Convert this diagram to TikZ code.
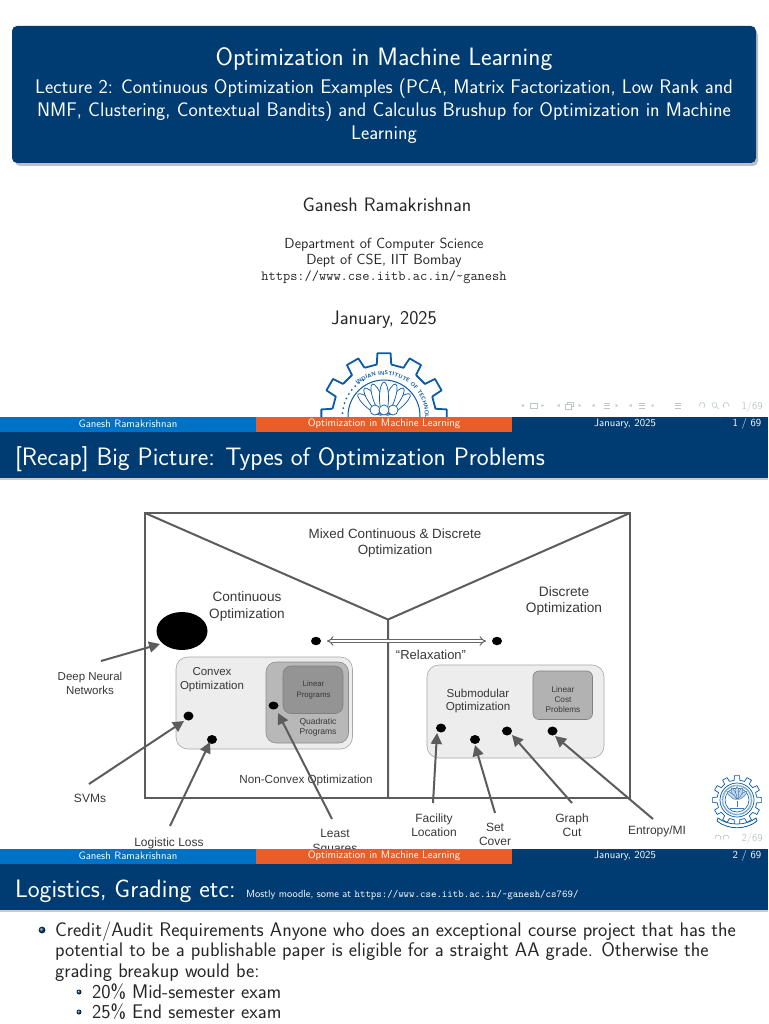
\documentclass[tikz,border=0pt]{standalone}
\usepackage{fontspec}
\newfontfamily\diafont{Liberation Sans}
\usetikzlibrary{arrows.meta,decorations.text,shadings,shapes.geometric}
\definecolor{navy}{RGB}{0,60,113}
\definecolor{midblue}{RGB}{0,114,198}
\definecolor{orng}{RGB}{232,94,42}
\definecolor{logoblue}{RGB}{10,90,165}
\definecolor{lgray}{gray}{0.36}
\definecolor{navgray}{RGB}{190,196,205}
\newcommand\pxfont[1]{\fontsize{#1}{#1}\selectfont}
\tikzset{
  x=1pt,y=-1pt,
  every node/.style={inner sep=0pt,outer sep=0pt,font=\sffamily},
  band/.style={fill=#1,draw=none},
  foot/.style={text=white,font=\sffamily\pxfont{10.7}},
  ttl/.style={text=white,anchor=base west,font=\sffamily\pxfont{25.2}},
  sub/.style={text=white,font=\sffamily\pxfont{19.7}},
  body/.style={text=black!85,anchor=base west,font=\sffamily\pxfont{19.7}},
  dia/.style={text=black!78,align=center,font=\diafont\pxfont{#1}},
  dia/.default=12.5,
  dot/.style={fill=black,ellipse},
  frameline/.style={draw=lgray,line width=2pt},
  arr/.style={draw=lgray,line width=2pt,-{Triangle[length=11pt,width=11pt]}},
  gearlw/.initial=1.8pt,
  gearpic/.pic={
    \begin{scope}[y=1pt]
      \foreach \a in {0,30,...,330}{
        \draw[logoblue,line width=\pgfkeysvalueof{/tikz/gearlw},line join=round]
          (\a-8:52)--(\a-6:63)--(\a+6:63)--(\a+8:52)--(\a+22:52);
      }
      \draw[logoblue,line width=1pt] (0,0) circle[radius=36];
      \foreach \a in {40,140,55,125,70,110,90}{
        \draw[logoblue,fill=white,line width=.7pt,rotate=\a] (18,0) ellipse[x radius=16,y radius=4.5];
      }
      \foreach \a in {-1,1,0}{
        \draw[logoblue,fill=white,line width=.7pt] (\a*9,6) circle[radius=5];
      }
    \end{scope}
  },
}
\newcommand\navbar[1]{%
  \begin{scope}[navgray,line width=.6pt,shift={(0,#1)}]
    \foreach \x in {522,558,593,630}{\fill (\x+1.5,-1.5)--(\x+1.5,1.5)--(\x-1,0)--cycle;}
    \foreach \x in {543,580,617,653}{\fill (\x-1.5,-1.5)--(\x-1.5,1.5)--(\x+1,0)--cycle;}
    \draw (530,-2.5) rectangle (537,2.5);
    \draw (565,-1) rectangle (571,3.5); \draw (567,-1)--(567,-3)--(573,-3)--(573,1)--(571,1);
    \foreach \x in {607,642,678}{\draw (\x-3,-2.5)--(\x+3,-2.5) (\x-3,0)--(\x+3,0) (\x-3,2.5)--(\x+3,2.5);}
    \draw[shift={(702,0)},y=1pt] (200:3) arc[start angle=200,end angle=-50,radius=3];
    \draw (714.5,-.5) circle[radius=2.4] (716.5,1.5)--(719,3.5);
    \draw[shift={(726,0)},y=1pt] (-20:3) arc[start angle=-20,end angle=230,radius=3];
  \end{scope}}
\begin{document}
\begin{tikzpicture}
\useasboundingbox (0,0) rectangle (768,1024);
\fill[white] (0,0) rectangle (768,1024);

% ---------- title slide
\fill[black!25,rounded corners=5pt] (15,30) rectangle (758,166);
\fill[navy,rounded corners=5pt] (12,26) rectangle (756,163);
\node[text=white,font=\sffamily\pxfont{25.2}] (mtitle) at (384,59) {Optimization in Machine Learning};
\node[sub] (st1) at (384,89) {Lecture 2: Continuous Optimization Examples (PCA, Matrix Factorization, Low Rank and};
\node[sub] (st2) at (384,112) {NMF, Clustering, Contextual Bandits) and Calculus Brushup for Optimization in Machine};
\node[sub] (st3) at (384,135) {Learning};
\node[text=black!85,font=\sffamily\pxfont{19.5}] (author) at (387,205) {Ganesh Ramakrishnan};
\node[text=black!85,font=\sffamily\pxfont{14.6}] (dep1) at (384,245) {Department of Computer Science};
\node[text=black!85,font=\sffamily\pxfont{14.6}] (dep2) at (384,261) {Dept of CSE, IIT Bombay};
\node[text=black!85,font=\ttfamily\pxfont{14}] (url1) at (384,277) {https://www.cse.iitb.ac.in/\textasciitilde ganesh};
\node[text=black!85,font=\sffamily\pxfont{19.5}] (date1) at (384,320) {January, 2025};

% big logo
\begin{scope}
  \clip (300,340) rectangle (470,417);
  \pic at (384,416) {gearpic};
  \begin{scope}[shift={(384,416)},y=1pt]
    \path[decorate,decoration={text along path,text align=center,
      text color=logoblue,text={|\sffamily\bfseries\pxfont{5.6}|INDIAN INSTITUTE OF TECHNOLOGY}}]
      (115:41) arc[start angle=115,end angle=-5,radius=41];
    \foreach \a in {120,127,...,176}{\fill[logoblue] (\a:41.5) circle[radius=1];}
  \end{scope}
\end{scope}
\navbar{405.5}
\node[text=navgray,font=\sffamily\pxfont{10.5}] (pg1) at (752,407) {1/69};

% footer 1
\path[band=midblue] (0,417) rectangle (256,432);
\path[band=orng] (256,417) rectangle (512,432);
\path[band=navy] (512,417) rectangle (768,432);
\node[foot] (f1a) at (128,424) {Ganesh Ramakrishnan};
\node[foot] (f1b) at (384,424) {Optimization in Machine Learning};
\node[foot] (f1c) at (625,424) {January, 2025};
\node[foot] (f1d) at (747,424) {1 / 69};

% ---------- slide 2
\path[band=navy] (0,432) rectangle (768,478);
\fill[black!20] (0,478) rectangle (768,479.5);
\node[ttl] (t2) at (15,465) {[Recap] Big Picture: Types of Optimization Problems};

% diagram
\coordinate (tl) at (145,513);
\coordinate (tr) at (630,513);
\coordinate (br) at (630,798);
\coordinate (bl) at (145,798);
\coordinate (apex) at (388,619.5);
\coordinate (vb) at (388,798);
\draw[frameline] (tl)--(tr)--(br)--(bl)--cycle;
\draw[frameline] (tl)--(apex)--(tr) (apex)--(vb);

\node[dot,minimum width=51pt,minimum height=38pt] (dnn) at (182,631) {};
\node[dot,minimum width=10pt,minimum height=8.5pt] (d1) at (316,641) {};
\node[dot,minimum width=10pt,minimum height=8.5pt] (d2) at (497,641) {};
\path (d1.east)++(6,0) coordinate (ra) (d2.west)++(-6,0) coordinate (rb);
\draw[black!60,line width=1pt,double=white,double distance=2.2pt,{Implies}-{Implies}] (ra)--(rb);

\filldraw[fill=black!7,draw=black!35,line width=.6pt,rounded corners=12pt] (176,657) rectangle (352.5,749);
\filldraw[fill=black!28,draw=black!45,line width=.6pt,rounded corners=10pt] (266,662) rectangle (348.5,743);
\filldraw[fill=black!42,draw=black!50,line width=.6pt,rounded corners=8pt] (283,666) rectangle (343,713.5);
\filldraw[fill=black!7,draw=black!35,line width=.6pt,rounded corners=12pt] (427,665) rectangle (604,758);
\filldraw[fill=black!30,draw=black!50,line width=.6pt,rounded corners=6pt] (533,671) rectangle (592.5,719.5);

\node[dia=13.4] (mix) at (395,543) {Mixed Continuous \& Discrete\\[3pt]Optimization};
\node[dia=13.6] (cont) at (247,606.5) {Continuous\\[3pt]Optimization};
\node[dia=13.7] (disc) at (564,601) {Discrete\\[3pt]Optimization};
\node[dia=13] (rel) at (431,655) {“Relaxation”};
\node[dia=11.5] (conv) at (212,679.5) {Convex\\[2pt]Optimization};
\node[dia=7.8] (lp) at (313.5,690) {Linear\\[2.5pt]Programs};
\node[dia=8.5] (qp) at (318,727) {Quadratic\\[1.5pt]Programs};
\node[dia=11.6] (sub) at (478,701) {Submodular\\[2pt]Optimization};
\node[dia=8.2] (lc) at (563,699.5) {Linear\\[1.6pt]Cost\\[1.6pt]Problems};
\node[dia=11.7] (nc) at (306,780) {Non-Convex Optimization};
\node[dia=11.5] (dn) at (90,683) {Deep Neural\\[2.5pt]Networks};
\node[dia=12] (svm) at (90,798) {SVMs};
\node[dia=12] (ll) at (169,843.5) {Logistic Loss};
\node[dia=12] (ls) at (335,842.5) {Least\\[3pt]Squares};
\node[dia=12] (fl) at (434,825) {Facility\\[2pt]Location};
\node[dia=12] (sc) at (495,834) {Set\\[2pt]Cover};
\node[dia=12] (gc) at (572,825) {Graph\\[2pt]Cut};
\node[dia=12] (em) at (657,831) {Entropy/MI};

\node[dot,minimum width=10pt,minimum height=9pt] (sv) at (188.5,716) {};
\node[dot,minimum width=10pt,minimum height=9pt] (lo) at (212,739.5) {};
\node[dot,minimum width=10pt,minimum height=8pt] (lq) at (273.5,705.5) {};
\node[dot,minimum width=10pt,minimum height=9pt] (fa) at (441,728) {};
\node[dot,minimum width=10pt,minimum height=9pt] (se) at (475,739.5) {};
\node[dot,minimum width=10pt,minimum height=9pt] (gr) at (507,731) {};
\node[dot,minimum width=10pt,minimum height=9pt] (en) at (552.5,731) {};

\coordinate (a1) at (101,661); \coordinate (b1) at (160,644);
\coordinate (a2) at (89,784);  \coordinate (b2) at (184,721);
\coordinate (a3) at (170,826); \coordinate (b3) at (210,742);
\coordinate (a4) at (332,819); \coordinate (b4) at (278,713);
\coordinate (a5) at (433,803); \coordinate (b5) at (437,733);
\coordinate (a6) at (495,813); \coordinate (b6) at (475,745);
\coordinate (a7) at (572,803); \coordinate (b7) at (512,735);
\coordinate (a8) at (653,819); \coordinate (b8) at (555,736);
\foreach \i in {1,...,8}{\draw[arr] (a\i)--(b\i);}

% small logo
\foreach \a in {0,30,...,330}{
  \draw[logoblue,line width=.7pt,shift={(737,800)},y=1pt]
    (\a-8:20)--(\a-6:24.5)--(\a+6:24.5)--(\a+8:20)--(\a+22:20);
}
\draw[logoblue,line width=.7pt] (737,800) circle[radius=17];
\draw[logoblue!60,line width=1.6pt,dash pattern=on .7pt off .5pt] (737,800) circle[radius=14.5];
\draw[logoblue,line width=.6pt] (737,800) circle[radius=12];
\foreach \a in {-50,-25,0,25,50}{
  \draw[logoblue,fill=logoblue!25,line width=.3pt,shift={(737,800)},rotate=\a] (0,-7) ellipse[x radius=1.7,y radius=6];
}
\draw[logoblue!80,line width=1pt] (737,801)--(737,807) (730,808)--(744,808);
\filldraw[fill=white,draw=logoblue,line width=.8pt] (718,818) .. controls (728,826) and (746,826) .. (756,818) -- (757,821) .. controls (746,830) and (728,830) .. (717,821) -- cycle;
\begin{scope}[navgray,line width=.6pt,shift={(0,838)}]
  \draw[shift={(718,0)},y=1pt] (200:3) arc[start angle=200,end angle=-50,radius=3];
  \draw[shift={(726,0)},y=1pt] (-20:3) arc[start angle=-20,end angle=230,radius=3];
\end{scope}
\node[text=navgray,font=\sffamily\pxfont{10.5}] (pg2) at (752,839) {2/69};

% footer 2
\path[band=midblue] (0,849) rectangle (256,864);
\path[band=orng] (256,849) rectangle (512,864);
\path[band=navy] (512,849) rectangle (768,864);
\node[foot] (f2a) at (128,856) {Ganesh Ramakrishnan};
\node[foot] (f2b) at (384,856) {Optimization in Machine Learning};
\node[foot] (f2c) at (625,856) {January, 2025};
\node[foot] (f2d) at (747,856) {2 / 69};

% ---------- slide 3
\path[band=navy] (0,864) rectangle (768,910);
\fill[black!20] (0,910) rectangle (768,911.5);
\node[ttl] (t3) at (15,897) {Logistics, Grading etc:};
\node[text=white,anchor=base west,font=\sffamily\pxfont{10.4}] (t3b) at (246,897) {Mostly moodle, some at \ttfamily https://www.cse.iitb.ac.in/\textasciitilde ganesh/cs769/};

\shade[ball color=navy!85!black] (42,930) circle[radius=3.4];
\node[body] (b1l) at (55,936) {Credit/Audit Requirements Anyone who does an exceptional course project that has the};
\node[body] (b2l) at (55,956) {potential to be a publishable paper is eligible for a straight AA grade. Otherwise the};
\node[body] (b3l) at (55,977) {grading breakup would be:};
\shade[ball color=navy!85!black] (79,992) circle[radius=2.5];
\node[body] (b4l) at (92,998) {20\% Mid-semester exam};
\shade[ball color=navy!85!black] (79,1012) circle[radius=2.5];
\node[body] (b5l) at (92,1018) {25\% End semester exam};
\end{tikzpicture}
\end{document}
